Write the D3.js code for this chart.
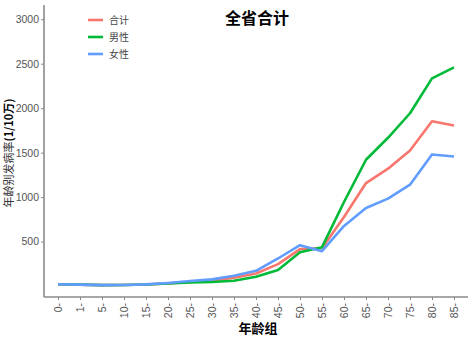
<!doctype html>
<html>
<head>
<meta charset="utf-8">
<style>
  body { margin: 0; background: #fff; }
  svg text { font-family: "Liberation Sans", Arial, sans-serif; }
  .cjk { font-family: "Noto Sans CJK SC", sans-serif; }
</style>
</head>
<body>
<svg id="chart" width="474" height="338"></svg>
<script src="https://d3js.org/d3.v7.min.js"></script>
<script>
// age groups and incidence per 100k
var ageGroups = ["0-", "1-", "5-", "10-", "15-", "20-", "25-", "30-", "35-", "40-", "45-", "50-", "55-", "60-", "65-", "70-", "75-", "80-", "85-"];
var totalRate = [20, 16, 10, 12, 18, 30, 45, 60, 93, 142, 247, 415, 425, 777, 1158, 1320, 1525, 1853, 1805];
var maleRate  = [20, 16, 10, 12, 17, 28, 41, 45, 60, 105, 180, 380, 437, 945, 1420, 1667, 1943, 2335, 2458];
var femaleRate = [20, 16, 10, 12, 19, 35, 56, 75, 116, 172, 310, 460, 392, 676, 878, 983, 1140, 1480, 1457];
var yTicks = [500, 1000, 1500, 2000, 2500, 3000];

var series = [
  { name: "合计", values: totalRate, color: "#F8766D" },
  { name: "男性", values: maleRate, color: "#00BA38" },
  { name: "女性", values: femaleRate, color: "#619CFF" }
];

var svg = d3.select("#chart");
var plotL = 44, plotR = 468, plotT = 5, plotB = 297;

var x = d3.scalePoint().domain(ageGroups).range([58, 454]);
var y = d3.scaleLinear().domain([-123, 3160]).range([plotB, plotT]);

// axes
var yAxis = svg.append("g").attr("transform", "translate(" + plotL + ",0)")
  .call(d3.axisLeft(y).tickValues(yTicks).tickFormat(d3.format("d")).tickSize(3).tickPadding(2));
var xAxis = svg.append("g").attr("transform", "translate(0," + plotB + ")")
  .call(d3.axisBottom(x).tickSize(3).tickPadding(2));

[yAxis, xAxis].forEach(function(g) {
  g.select(".domain").attr("stroke", "#8a8a8a").attr("stroke-width", 1.6);
  g.selectAll(".tick line").attr("stroke", "#8a8a8a");
  g.selectAll(".tick text").attr("fill", "#555").style("font-size", "10.5px");
});
yAxis.select(".domain").attr("d", "M0," + plotT + "V" + plotB);
xAxis.select(".domain").attr("d", "M" + plotL + ",0H" + plotR);

xAxis.selectAll(".tick text")
  .attr("transform", "rotate(-90)")
  .attr("text-anchor", "end")
  .attr("x", -6)
  .attr("y", 0)
  .attr("dy", "0.35em");

// lines
var line = d3.line()
  .x(function(d, i) { return x(ageGroups[i]); })
  .y(function(d) { return y(d); });

svg.selectAll(".series")
  .data(series)
  .enter()
  .append("path")
  .attr("fill", "none")
  .attr("stroke", function(d) { return d.color; })
  .attr("stroke-width", 2.6)
  .attr("stroke-linejoin", "round")
  .attr("d", function(d) { return line(d.values); });

// title
svg.append("text")
  .attr("class", "cjk")
  .attr("x", 257).attr("y", 24)
  .attr("text-anchor", "middle")
  .style("font-size", "16px")
  .style("font-weight", "600")
  .text("全省合计");

// legend
var legend = svg.append("g").attr("transform", "translate(88,20)");
series.forEach(function(s, i) {
  legend.append("line")
    .attr("x1", 0).attr("x2", 15)
    .attr("y1", i * 17).attr("y2", i * 17)
    .attr("stroke", s.color).attr("stroke-width", 2.6);
  legend.append("text")
    .attr("class", "cjk")
    .attr("x", 21).attr("y", i * 17)
    .attr("dy", "0.35em")
    .attr("fill", "#444")
    .style("font-size", "10px")
    .text(s.name);
});

// axis titles
svg.append("text")
  .attr("class", "cjk")
  .attr("x", 258).attr("y", 333)
  .attr("text-anchor", "middle")
  .style("font-size", "13px")
  .style("font-weight", "bold")
  .text("年龄组");

var yt = svg.append("text")
  .attr("transform", "translate(13,153) rotate(-90)")
  .attr("text-anchor", "middle")
  .style("font-size", "11px");
yt.append("tspan").attr("class", "cjk").attr("fill", "#333").text("年龄别发病率");
yt.append("tspan").attr("class", "cjk").style("font-weight", "bold").text("(1/10万)");
</script>
</body>
</html>
